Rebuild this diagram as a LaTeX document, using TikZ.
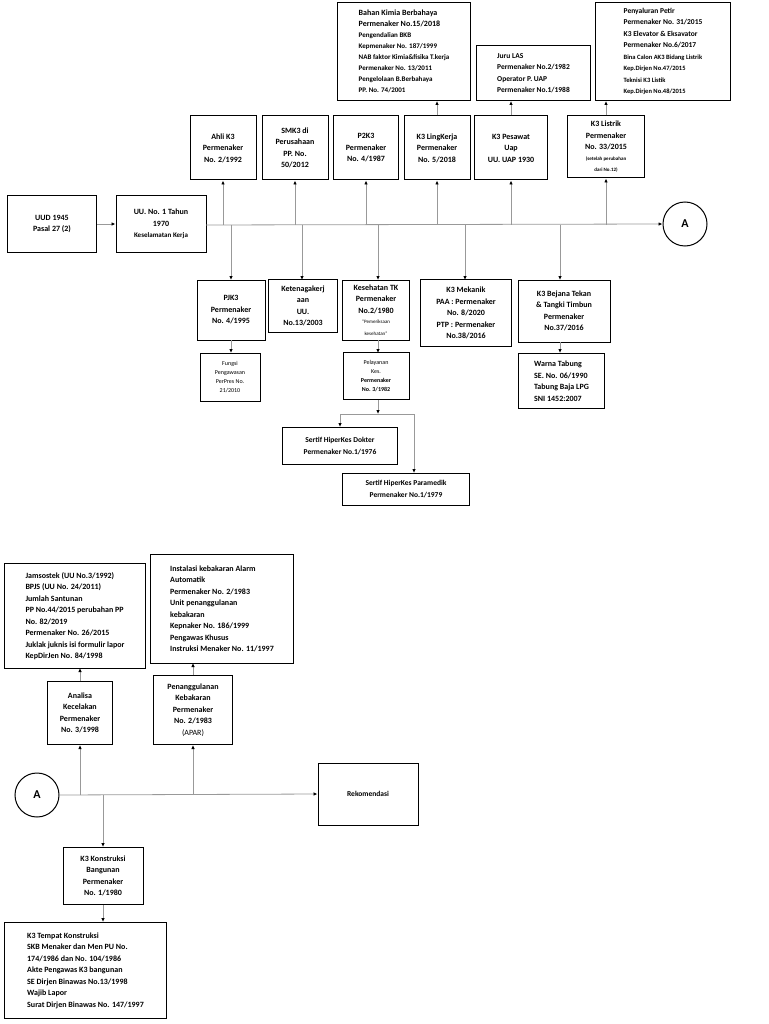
\documentclass[tikz,border=0pt]{standalone}
\usepackage{fontspec}
\setmainfont{Carlito}
\usetikzlibrary{arrows.meta}
\begin{document}
\begin{tikzpicture}[x=1pt,y=-1pt,
  bx/.style={draw=black,line width=1pt,inner sep=2pt,font=\bfseries\fontsize{8}{11.5}\selectfont,align=center},
  lbx/.style={bx,align=left,anchor=north west,inner sep=4pt},
  ln/.style={draw=gray!80,line width=0.8pt},
  ar/.style={ln,-{Latex[length=4pt,width=3.5pt,color=black]}},
  sm/.style={font=\fontsize{5}{6}\selectfont}]
\useasboundingbox (0,0) rectangle (768,1024);
% top row
\node[bx,minimum width=89pt,minimum height=56pt] (uud) at (52,224) {UUD 1945\\Pasal 27 (2)};
\node[bx,minimum width=90pt,minimum height=56pt] (uu) at (161,224) {UU. No. 1 Tahun\\1970\\{\fontsize{7}{10}\selectfont Keselamatan Kerja}};
\node[draw,circle,line width=1pt,minimum size=44pt,font=\bfseries\large] (A) at (685,224) {A};
\draw[ar] (uud) -- (uu);
\coordinate (m0) at (206,225);
\draw[ar] (m0) -- (A.west);
\node[bx,minimum width=66pt,minimum height=64pt] (ahli) at (223,148) {Ahli K3\\Permenaker\\No. 2/1992};
\node[bx,minimum width=66pt,minimum height=64pt] (smk) at (295,148) {SMK3 di\\Perusahaan\\PP. No.\\50/2012};
\node[bx,minimum width=65pt,minimum height=64pt] (p2k) at (366,148) {P2K3\\Permenaker\\No. 4/1987};
\node[bx,minimum width=66pt,minimum height=64pt] (ling) at (437,148) {K3 LingKerja\\Permenaker\\No. 5/2018};
\node[bx,minimum width=73pt,minimum height=64pt] (uap) at (511,148) {K3 Pesawat\\Uap\\UU. UAP 1930};
\node[bx,minimum width=77pt,minimum height=62pt] (lis) at (606,147) {K3 Listrik\\Permenaker\\No. 33/2015\\[-1pt]{\fontsize{5}{6}\selectfont (setelah perubahan}\\{\fontsize{5}{6}\selectfont dari No.12)}};
\foreach \n/\x in {ahli/223,smk/295,p2k/366,ling/437,uap/511,lis/606}{
  \coordinate (c\n) at (\x,225);
  \draw[ar] (c\n) -- (\n.south);}
\node[lbx,minimum width=133pt,minimum height=98pt,font=\bfseries\fontsize{7}{11}\selectfont] (bkb) at (337,2) {{\fontsize{8}{11}\selectfont Bahan Kimia Berbahaya}\\{\fontsize{8}{11}\selectfont Permenaker No.15/2018}\\Pengendalian BKB\\Kepmenaker No. 187/1999\\NAB faktor Kimia\&fisika T.kerja\\Permenaker No. 13/2011\\Pengelolaan B.Berbahaya\\PP. No. 74/2001};
\node[lbx,minimum width=114pt,minimum height=55pt,font=\bfseries\fontsize{7.5}{11.5}\selectfont] (las) at (476,45) {Juru LAS\\Permenaker No.2/1982\\Operator P. UAP\\Permenaker No.1/1988};
\node[lbx,minimum width=135pt,minimum height=98pt,font=\bfseries\fontsize{7.5}{11.5}\selectfont] (petir) at (595,2) {Penyaluran Petir\\Permenaker No. 31/2015\\K3 Elevator \& Eksavator\\Permenaker No.6/2017\\{\fontsize{6.5}{11}\selectfont Bina Calon AK3 Bidang Listrik}\\{\fontsize{6.5}{11}\selectfont Kep.Dirjen No.47/2015}\\{\fontsize{6.5}{11}\selectfont Teknisi K3 Listik}\\{\fontsize{6.5}{11}\selectfont Kep.Dirjen No.48/2015}};
\draw[ar] (ling.north) -- (ling.north|-bkb.south);
\draw[ar] (uap.north) -- (uap.north|-las.south);
\draw[ar] (lis.north) -- (lis.north|-petir.south);
% bottom row
\node[bx,minimum width=68pt,minimum height=60pt] (pjk) at (231,310) {PJK3\\Permenaker\\No. 4/1995};
\node[bx,minimum width=69pt,minimum height=53pt] (ket) at (303,306) {Ketenagakerj\\aan\\UU.\\No.13/2003};
\node[bx,minimum width=67pt,minimum height=60pt] (kes) at (376,310) {Kesehatan TK\\Permenaker\\No.2/1980\\[-1pt]{\fontsize{5}{6}\selectfont\mdseries ``Pemeriksaan}\\{\fontsize{5}{6}\selectfont\mdseries kesehatan''}};
\node[bx,minimum width=91pt,minimum height=67pt] (mek) at (466,313) {K3 Mekanik\\PAA : Permenaker\\No. 8/2020\\PTP : Permenaker\\No.38/2016};
\node[bx,minimum width=92pt,minimum height=62pt] (bej) at (564,311) {K3 Bejana Tekan\\\& Tangki Timbun\\Permenaker\\No.37/2016};
\foreach \n/\x in {pjk/231,ket/302,kes/378,mek/465,bej/560}{
  \coordinate (d\n) at (\x,225);
  \draw[ar] (d\n) -- (\x,280);}
\node[bx,minimum width=60pt,minimum height=48pt,font=\fontsize{6}{9}\selectfont] (fun) at (230,377) {Fungsi\\Pengawasan\\PerPres No.\\21/2010};
\node[bx,minimum width=66pt,minimum height=47pt,font=\fontsize{6}{9}\selectfont] (pel) at (376,376) {Pelayanan\\Kes.\\\textbf{Permenaker}\\\textbf{No. 3/1982}};
\node[lbx,minimum width=86pt,minimum height=55pt] (war) at (518,353) {Warna Tabung\\SE. No. 06/1990\\Tabung Baja LPG\\SNI 1452:2007};
\draw[ar] (231,340) -- (231,353);
\draw[ar] (378,340) -- (378,353);
\draw[ar] (560,342) -- (560,353);
\node[bx,minimum width=115pt,minimum height=37pt,font=\bfseries\fontsize{7.5}{12}\selectfont] (dok) at (340,446) {Sertif HiperKes Dokter\\Permenaker No.1/1976};
\node[bx,minimum width=127pt,minimum height=32pt,font=\bfseries\fontsize{7.5}{12}\selectfont] (par) at (406,489) {Sertif HiperKes Paramedik\\Permenaker No.1/1979};
\coordinate (j1) at (378,414);
\draw[ar] (378,400) -- (j1);
\draw[ar] (j1) -- (340,414) -- (dok.north);
\draw[ar] (j1) -- (414,414) -- (414,473);
% lower diagram
\node[draw,circle,line width=1pt,minimum size=44pt,font=\bfseries\large] (B) at (37,795) {A};
\node[bx,draw,minimum width=100pt,minimum height=62pt,font=\bfseries\fontsize{7.5}{10}\selectfont] (rek) at (368,794) {Rekomendasi};
\draw[ar] (B.east) -- (rek.west);
\node[lbx,minimum width=141pt,minimum height=105pt] (jam) at (4,563) {Jamsostek (UU No.3/1992)\\BPJS (UU No. 24/2011)\\Jumlah Santunan\\PP No.44/2015 perubahan PP\\No. 82/2019\\Permenaker No. 26/2015\\Juklak juknis isi formulir lapor\\KepDirJen No. 84/1998};
\node[lbx,minimum width=143pt,minimum height=109pt] (ins) at (150,554) {Instalasi kebakaran Alarm\\Automatik\\Permenaker No. 2/1983\\Unit penanggulanan\\kebakaran\\Kepnaker No. 186/1999\\Pengawas Khusus\\Instruksi Menaker No. 11/1997};
\node[bx,minimum width=65pt,minimum height=63pt] (ana) at (80,713) {Analisa\\Kecelakan\\Permenaker\\No. 3/1998};
\node[bx,minimum width=79pt,minimum height=69pt] (pen) at (193,710) {Penanggulanan\\Kebakaran\\Permenaker\\No. 2/1983\\{\mdseries (APAR)}};
\coordinate (e1) at (80,795);
\coordinate (e2) at (193,795);
\coordinate (e3) at (103,795);
\draw[ar] (e1) -- (ana.south);
\draw[ar] (e2) -- (pen.south);
\draw[ar] (ana.north) -- (80,668);
\draw[ar] (pen.north) -- (193,663);
\node[bx,minimum width=80pt,minimum height=57pt] (kon) at (103,876) {K3 Konstruksi\\Bangunan\\Permenaker\\No. 1/1980};
\draw[ar] (e3) -- (kon.north);
\node[lbx,minimum width=162pt,minimum height=96pt] (tem) at (4,922) {K3 Tempat Konstruksi\\SKB Menaker dan Men PU No.\\174/1986 dan No. 104/1986\\Akte Pengawas K3 bangunan\\SE Dirjen Binawas No.13/1998\\Wajib Lapor\\Surat Dirjen Binawas No. 147/1997};
\draw[ar] (kon.south) -- (103,922);
\end{tikzpicture}
\end{document}
